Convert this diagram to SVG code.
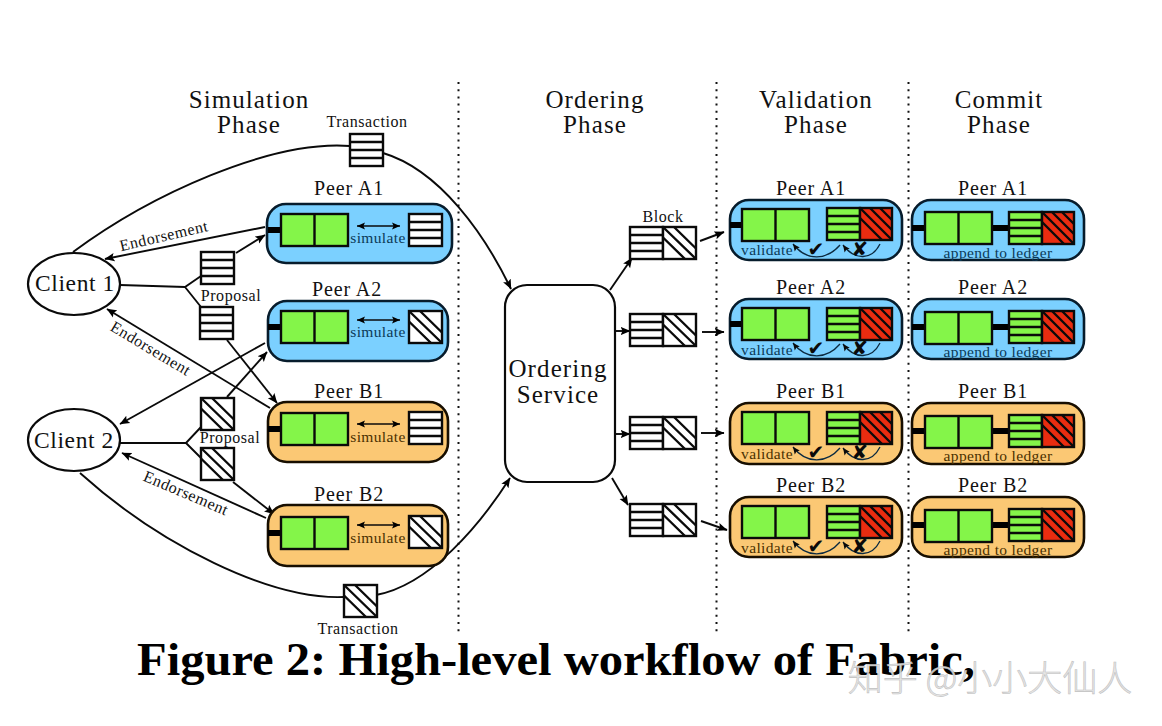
<svg xmlns="http://www.w3.org/2000/svg" width="1162" height="726" viewBox="0 0 1162 726">
<style>
text{font-family:"Liberation Serif","Times New Roman",serif;fill:#111;text-anchor:middle}
.title{font-size:25px;letter-spacing:1.1px}
.peer{font-size:20px;letter-spacing:.9px}
.client{font-size:23.5px;letter-spacing:.6px}
.small{font-size:16px;letter-spacing:.55px}
.inb{font-size:15.500px;fill:#0b3a58;letter-spacing:.35px}
.ino{font-size:15.500px;fill:#4a3000;letter-spacing:.35px}
.blue{fill:#7bd0ff;stroke:#071c2c;stroke-width:2.6}
.orange{fill:#fbc874;stroke:#170e00;stroke-width:2.6}
.q{fill:#84f549;stroke:#0a0a0a;stroke-width:2.4}
.line{fill:none;stroke:#0a0a0a;stroke-width:1.9}
.arrow{fill:none;stroke:#0a0a0a;stroke-width:1.9;marker-end:url(#ah)}
.div{fill:none;stroke:#111;stroke-width:2;stroke-dasharray:2 5.2}
.thick{stroke:#000;stroke-width:6;fill:none}
.box{stroke:#0a0a0a;stroke-width:2.4}
.arc{fill:none;stroke:#0b2a40;stroke-width:1.3;marker-end:url(#ahs)}
.mark{font-family:"DejaVu Sans",sans-serif;font-size:20px;font-weight:bold;fill:#0a0a0a}
</style>
<defs>
<marker id="ah" markerUnits="userSpaceOnUse" markerWidth="11" markerHeight="10" refX="9.5" refY="5" orient="auto"><path d="M0 .8L10 5L0 9.2L2 5Z" fill="#000"/></marker>
<marker id="ahd" markerUnits="userSpaceOnUse" markerWidth="9" markerHeight="8" refX="8" refY="4" orient="auto-start-reverse"><path d="M0 .5L8 4L0 7.500L1.600 4Z" fill="#000"/></marker>
<marker id="ahs" markerUnits="userSpaceOnUse" markerWidth="8" markerHeight="7" refX="7" refY="3.5" orient="auto"><path d="M0 .3L7 3.500L0 6.700L1.400 3.500Z" fill="#0a0a0a"/></marker>
<g id="stackW"><rect width="33" height="32" fill="#fff" class="box"/><path d="M0 8H33M0 16H33M0 24H33" class="box" fill="none"/></g>
<g id="hatchW"><rect width="33" height="32" fill="#fff" class="box"/><path d="M0 0L33 32M11 0L33 21.500M0 10.500L22 32" class="box" fill="none"/></g>
<g id="stackG"><rect width="33" height="32" fill="#84f549" class="box"/><path d="M0 8H33M0 16H33M0 24H33" class="box" fill="none"/></g>
<g id="hatchR"><rect width="32" height="32" fill="#e92c10" class="box"/><path d="M0 0L32 32M10 0L32 22M20 0L32 12M0 10L22 32" class="box" fill="none"/></g>
<g id="queue"><rect width="67" height="32" class="q"/><path d="M33.500 0V32" class="q"/></g>
<g id="dbl"><path d="M0 0H43" fill="none" stroke="#0a0a0a" stroke-width="1.6" marker-start="url(#ahd)" marker-end="url(#ahd)"/></g>
<g id="checks"><path d="M113 1C100 16 80 18 66 0" class="arc"/><path d="M153 0C145 16 128 17 116 1" class="arc"/><text x="89" y="12" class="mark">✔</text><text x="133" y="12" class="mark">✘</text></g>
</defs>

<g id="dividers">
<path d="M458.500 82V632" class="div"/>
<path d="M716.500 82V632" class="div"/>
<path d="M908.500 82V632" class="div"/>
</g>

<g id="phase-titles">
<text x="249" y="108" class="title">Simulation</text><text x="249" y="133" class="title">Phase</text>
<text x="595" y="108" class="title">Ordering</text><text x="595" y="133" class="title">Phase</text>
<text x="816" y="108" class="title">Validation</text><text x="816" y="133" class="title">Phase</text>
<text x="999" y="108" class="title">Commit</text><text x="999" y="133" class="title">Phase</text>
</g>

<g id="connectors">
<path d="M73 252C150 195 270 140 350 146" class="line"/>
<path d="M383 153C440 170 485 235 511 289" class="arrow"/>
<path d="M80 473C160 545 270 600 344 597" class="line"/>
<path d="M376 595C430 585 480 525 510 478" class="arrow"/>
<path d="M265 227L105 259" class="arrow"/>
<path d="M120 285L185 287L201 276M185 287L201 307" class="line"/>
<path d="M236 253L265 235" class="arrow"/>
<path d="M227 340L277 403" class="arrow"/>
<path d="M227 397L267 352" class="arrow"/>
<path d="M270 408L107 309" class="arrow"/>
<path d="M265 343L120 424" class="arrow"/>
<path d="M120 443H186L201 427M186 443L201 458" class="line"/>
<path d="M233 482L274 514" class="arrow"/>
<path d="M266 518L122 453" class="arrow"/>
<path d="M610 290L632 258" class="arrow"/>
<path d="M615 331H630" class="arrow"/>
<path d="M615 434H630" class="arrow"/>
<path d="M612 478L628 505" class="arrow"/>
<path d="M700 241L724 232" class="arrow"/>
<path d="M702 332H724" class="arrow"/>
<path d="M701 433H724" class="arrow"/>
<path d="M701 521L727 530" class="arrow"/>
</g>

<g id="connector-labels">
<text class="small" transform="translate(165 241) rotate(-13)">Endorsement</text>
<text class="small" transform="translate(148 353) rotate(31)">Endorsement</text>
<text class="small" transform="translate(184 498) rotate(23)">Endorsement</text>
<text class="small" x="231" y="301">Proposal</text>
<text class="small" x="230" y="443">Proposal</text>
<text class="small" x="367" y="127">Transaction</text>
<text class="small" x="358" y="634">Transaction</text>
</g>

<g id="client1"><ellipse cx="74" cy="284" rx="46" ry="31" fill="#fff" stroke="#0a0a0a" stroke-width="2.2"/><text x="75" y="291" class="client">Client 1</text></g>
<g id="client2"><ellipse cx="74" cy="440" rx="46" ry="31" fill="#fff" stroke="#0a0a0a" stroke-width="2.2"/><text x="74" y="448" class="client">Client 2</text></g>

<g id="tx1"><use href="#stackW" x="350" y="134"/></g>
<g id="tx2"><use href="#hatchW" x="344" y="585"/></g>
<g id="proposal-a1"><use href="#stackW" x="201" y="252"/></g>
<g id="proposal-a2"><use href="#stackW" x="200" y="307"/></g>
<g id="proposal-b1"><use href="#hatchW" x="201" y="398"/></g>
<g id="proposal-b2"><use href="#hatchW" x="201" y="448"/></g>

<g id="sim-a1"><text x="349" y="195" class="peer">Peer A1</text><rect x="267" y="204" width="185" height="59" rx="19" class="blue"/><path d="M268 230H281" class="thick"/><use href="#queue" x="281" y="214"/><use href="#dbl" x="357" y="226"/><text x="378" y="243" class="inb">simulate</text><use href="#stackW" x="409" y="214"/></g>
<g id="sim-a2"><text x="347" y="296" class="peer">Peer A2</text><rect x="268" y="301" width="180" height="60" rx="19" class="blue"/><path d="M268 327H281" class="thick"/><use href="#queue" x="281" y="311"/><use href="#dbl" x="357" y="320"/><text x="378" y="337" class="inb">simulate</text><use href="#hatchW" x="409" y="311"/></g>
<g id="sim-b1"><text x="349" y="398" class="peer">Peer B1</text><rect x="268" y="402" width="180" height="60" rx="19" class="orange"/><path d="M268 429H281" class="thick"/><use href="#queue" x="281" y="413"/><use href="#dbl" x="357" y="424"/><text x="378" y="442" class="ino">simulate</text><use href="#stackW" x="409" y="412"/></g>
<g id="sim-b2"><text x="349" y="501" class="peer">Peer B2</text><rect x="268" y="505" width="180" height="61" rx="19" class="orange"/><path d="M268 533H281" class="thick"/><use href="#queue" x="281" y="517"/><use href="#dbl" x="357" y="525"/><text x="378" y="543" class="ino">simulate</text><use href="#hatchW" x="409" y="516"/></g>

<g id="ordering-service"><rect x="505" y="285" width="110" height="197" rx="22" fill="#fff" stroke="#0a0a0a" stroke-width="2.2"/><text x="558" y="377" class="title">Ordering</text><text x="558" y="403" class="title">Service</text></g>

<g id="block1"><text x="663" y="222" class="small">Block</text><use href="#stackW" x="630" y="227"/><use href="#hatchW" x="663" y="227"/></g>
<g id="block2"><use href="#stackW" x="630" y="314"/><use href="#hatchW" x="663" y="314"/></g>
<g id="block3"><use href="#stackW" x="630" y="417"/><use href="#hatchW" x="663" y="417"/></g>
<g id="block4"><use href="#stackW" x="630" y="504"/><use href="#hatchW" x="663" y="504"/></g>

<g id="val-a1"><text x="811" y="195" class="peer">Peer A1</text><rect x="730" y="200" width="172" height="60" rx="19" class="blue"/><path d="M730 225H742" class="thick"/><use href="#queue" x="742" y="209"/><use href="#stackG" x="827" y="208"/><use href="#hatchR" x="860" y="208"/><text x="767" y="255" class="inb">validate</text><use href="#checks" x="727" y="244"/></g>
<g id="val-a2"><text x="811" y="294" class="peer">Peer A2</text><rect x="730" y="299" width="172" height="60" rx="19" class="blue"/><path d="M730 324H742" class="thick"/><use href="#queue" x="742" y="308"/><use href="#stackG" x="827" y="308"/><use href="#hatchR" x="860" y="308"/><text x="767" y="355" class="inb">validate</text><use href="#checks" x="727" y="343"/></g>
<g id="val-b1"><text x="811" y="398" class="peer">Peer B1</text><rect x="730" y="403" width="172" height="61" rx="19" class="orange"/><use href="#queue" x="742" y="412"/><use href="#stackG" x="827" y="412"/><use href="#hatchR" x="860" y="412"/><text x="767" y="459" class="ino">validate</text><use href="#checks" x="727" y="447"/></g>
<g id="val-b2"><text x="811" y="492" class="peer">Peer B2</text><rect x="730" y="497" width="172" height="60" rx="19" class="orange"/><use href="#queue" x="742" y="506"/><use href="#stackG" x="827" y="506"/><use href="#hatchR" x="860" y="506"/><text x="767" y="553" class="ino">validate</text><use href="#checks" x="727" y="541"/></g>

<g id="com-a1"><text x="993" y="195" class="peer">Peer A1</text><rect x="912" y="200" width="172" height="60" rx="19" class="blue"/><path d="M912 228H925M991 228H1008" class="thick"/><use href="#queue" x="925" y="212"/><use href="#stackG" x="1009" y="212"/><use href="#hatchR" x="1042" y="212"/><text x="998" y="258" class="inb">append to ledger</text></g>
<g id="com-a2"><text x="993" y="294" class="peer">Peer A2</text><rect x="912" y="299" width="172" height="60" rx="19" class="blue"/><path d="M912 327H925M991 327H1008" class="thick"/><use href="#queue" x="925" y="312"/><use href="#stackG" x="1009" y="311"/><use href="#hatchR" x="1042" y="311"/><text x="998" y="357" class="inb">append to ledger</text></g>
<g id="com-b1"><text x="993" y="398" class="peer">Peer B1</text><rect x="912" y="403" width="172" height="61" rx="19" class="orange"/><path d="M912 431H925M991 431H1008" class="thick"/><use href="#queue" x="925" y="416"/><use href="#stackG" x="1009" y="415"/><use href="#hatchR" x="1042" y="415"/><text x="998" y="461" class="ino">append to ledger</text></g>
<g id="com-b2"><text x="993" y="492" class="peer">Peer B2</text><rect x="912" y="497" width="172" height="60" rx="19" class="orange"/><path d="M912 525H925M991 525H1008" class="thick"/><use href="#queue" x="925" y="510"/><use href="#stackG" x="1009" y="509"/><use href="#hatchR" x="1042" y="509"/><text x="998" y="555" class="ino">append to ledger</text></g>

<g id="caption"><text x="137" y="675" textLength="838" lengthAdjust="spacingAndGlyphs" style="font-size:46px;font-weight:bold;text-anchor:start;fill:#000">Figure 2: High-level workflow of Fabric,</text></g>
<g id="watermark"><text x="990" y="691" style="font-family:'Noto Sans CJK SC','Noto Sans',sans-serif;font-size:35px;font-weight:300;fill:#e4e4e4;stroke:#bdbdbd;stroke-width:.6;opacity:.92">知乎 @小小大仙人</text></g>
</svg>
